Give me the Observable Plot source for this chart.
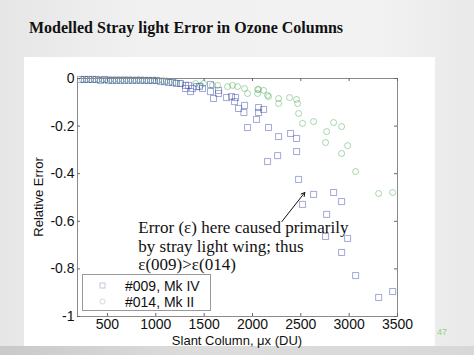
<!DOCTYPE html>
<html><head><meta charset="utf-8">
<script src="https://cdn.jsdelivr.net/npm/d3@7"></script>
<script src="https://cdn.jsdelivr.net/npm/@observablehq/plot@0.6"></script>
<style>
html,body{margin:0;padding:0;width:474px;height:355px;overflow:hidden;}
body{position:relative;background:linear-gradient(to right,#e6e6e6 0%,#f1f1f1 30%,#f2f2f2 80%,#e9e9e9 100%);font-family:"Liberation Sans",Arial,sans-serif;}
#bottom{position:absolute;left:0;top:346px;width:474px;height:9px;background:linear-gradient(to right,#c9c9c9,#dcdcdc 40%,#d8d8d8);}
#title{position:absolute;left:29px;top:20px;font:bold 16px "Liberation Serif","Times New Roman",serif;color:#111;white-space:nowrap;line-height:16px;}
#panel{position:absolute;left:24px;top:57px;width:411px;height:289px;background:#fff;}
#chart{position:absolute;left:0;top:0;}
#legend{position:absolute;left:58px;top:217px;width:127px;height:35px;border:1px solid #999;background:#fff;font:14px "Liberation Sans",Arial,sans-serif;color:#111;}
#legend .row{position:absolute;left:0;height:16px;line-height:16px;white-space:nowrap;}
#legend svg{position:absolute;left:15px;top:3px;}
#legend span{position:absolute;left:42px;top:0;}
#xlabel{position:absolute;left:0;width:474px;text-align:center;top:334px;font:13px "Liberation Sans",Arial,sans-serif;color:#111;line-height:13px;}
#ylabel{position:absolute;left:38px;top:197px;transform:translate(-50%,-50%) rotate(-90deg);font:13px "Liberation Sans",Arial,sans-serif;color:#111;white-space:nowrap;}
#pg{position:absolute;left:437px;top:327px;font:9px "Liberation Sans",Arial,sans-serif;color:#8fd67a;}
</style></head>
<body>
<div id="bottom"></div>
<div id="title">Modelled Stray light Error in Ozone Columns</div>
<div id="panel"><div id="chart"></div>
<div id="legend">
 <div class="row" style="top:3px"><svg width="10" height="10"><rect x="2" y="2" width="5" height="5" fill="none" stroke="#c8c8de"/></svg><span>#009, Mk IV</span></div>
 <div class="row" style="top:19px"><svg width="10" height="10"><circle cx="4.5" cy="4.5" r="2.6" fill="none" stroke="#d0dccf"/></svg><span>#014, Mk II</span></div>
</div>
</div>
<div id="xlabel">Slant Column, μx (DU)</div>
<div id="ylabel">Relative Error</div>
<div id="pg">47</div>
<script>
// Series #009, Mk IV (squares)
const mk4X = [221,262,303,345,386,428,469,510,552,593,635,676,717,759,800,842,883,924,966,1007,1049,1090,1131,1173,1214,1256,1307,1338,1380,1307,1359,1421,1452,1483,1566,1566,1649,1649,1597,1732,1783,1825,1814,1856,1918,1911,1949,2063,2063,2115,2042,2166,2270,2394,2456,2456,2260,2156,2477,2632,2518,2839,2922,2767,2756,2984,2922,3067,3305,3450];
const mk4Y = [-0.004,-0.004,-0.004,-0.004,-0.004,-0.008,-0.004,-0.008,-0.008,-0.008,-0.008,-0.008,-0.008,-0.008,-0.008,-0.008,-0.008,-0.008,-0.008,-0.008,-0.013,-0.013,-0.017,-0.017,-0.021,-0.021,-0.029,-0.029,-0.042,-0.042,-0.055,-0.034,-0.034,-0.042,-0.025,-0.055,-0.050,-0.063,-0.084,-0.080,-0.076,-0.080,-0.097,-0.126,-0.113,-0.143,-0.206,-0.122,-0.143,-0.130,-0.172,-0.206,-0.244,-0.231,-0.252,-0.307,-0.324,-0.349,-0.424,-0.487,-0.529,-0.479,-0.517,-0.571,-0.664,-0.672,-0.731,-0.828,-0.920,-0.895];
// Series #014, Mk II (circles)
const mk2X = [241,282,324,365,407,448,490,531,572,614,655,697,738,780,821,862,904,945,986,1028,1069,1110,1152,1204,1256,1411,1463,1494,1587,1639,1742,1794,1846,1918,1949,2053,2053,2063,2115,2156,2166,2270,2270,2384,2456,2467,2477,2518,2632,2839,2922,2767,2756,2984,2922,3067,3305,3450];
const mk2Y = [-0.004,-0.004,-0.004,-0.004,-0.004,-0.004,-0.004,-0.004,-0.004,-0.004,-0.004,-0.004,-0.004,-0.006,-0.004,-0.006,-0.008,-0.008,-0.008,-0.008,-0.008,-0.010,-0.013,-0.017,-0.021,-0.021,-0.029,-0.021,-0.029,-0.029,-0.034,-0.029,-0.034,-0.042,-0.063,-0.063,-0.046,-0.046,-0.050,-0.071,-0.076,-0.084,-0.105,-0.080,-0.088,-0.105,-0.147,-0.189,-0.181,-0.185,-0.202,-0.223,-0.269,-0.282,-0.315,-0.391,-0.483,-0.479];
const xTicks = [500,1000,1500,2000,2500,3000,3500];
const yTicks = [0,-0.2,-0.4,-0.6,-0.8,-1];
const xDomain = [190,3500];
const yDomain = [-1,0];
const noteText = ["Error (ε) here caused primarily","by stray light wing; thus","ε(009)>ε(014)"];
const notePos = {x: 819, y: -0.703};
const arrowPos = {x1: 2304, y1: -0.601, x2: 2541, y2: -0.479};

const mk4 = mk4X.map((x,i)=>({x, y: mk4Y[i]}));
const mk2 = mk2X.map((x,i)=>({x, y: mk2Y[i]}));

const chart = Plot.plot({
  width: 411, height: 289,
  marginLeft: 53, marginRight: 38, marginTop: 21, marginBottom: 30,
  x: {domain: xDomain},
  y: {domain: yDomain},
  style: {background: "transparent", overflow: "visible", fontFamily: "'Liberation Sans', Arial, sans-serif"},
  marks: [
    Plot.dot(mk2, {x: "x", y: "y", r: 3, stroke: "#2f9a3a", strokeOpacity: 0.4, fill: "none", strokeWidth: 1}),
    Plot.dot(mk4, {x: "x", y: "y", symbol: "square", r: 3.4, stroke: "#3040a8", strokeOpacity: 0.45, fill: "none", strokeWidth: 1}),
    Plot.text([noteText.join("\n")], {x: () => notePos.x, y: () => notePos.y, text: d => d, textAnchor: "start", lineAnchor: "middle", lineHeight: 1.08, fontSize: 17, fontFamily: "'Liberation Serif','Times New Roman',serif", fill: "#111"}),
    Plot.arrow([arrowPos], {x1: "x1", y1: "y1", x2: "x2", y2: "y2", stroke: "#111", strokeWidth: 1, headLength: 6}),
    Plot.frame({stroke: "#8a8a8a"}),
    Plot.tickX(xTicks, {x: d => d, stroke: "#666", insetTop: 235}),
    Plot.tickX(xTicks, {x: d => d, stroke: "#666", insetBottom: 235}),
    Plot.tickY(yTicks, {y: d => d, stroke: "#666", insetRight: 317}),
    Plot.tickY(yTicks, {y: d => d, stroke: "#666", insetLeft: 317}),
    Plot.axisX({ticks: xTicks, tickSize: 0, tickPadding: 3, fontSize: 14, label: null, tickFormat: d => String(d), fill: "#111"}),
    Plot.axisY({ticks: yTicks, tickSize: 0, tickPadding: 3, fontSize: 14, label: null, tickFormat: d => String(d), fill: "#111"})
  ]
});
document.getElementById("chart").appendChild(chart);
</script>
</body></html>
